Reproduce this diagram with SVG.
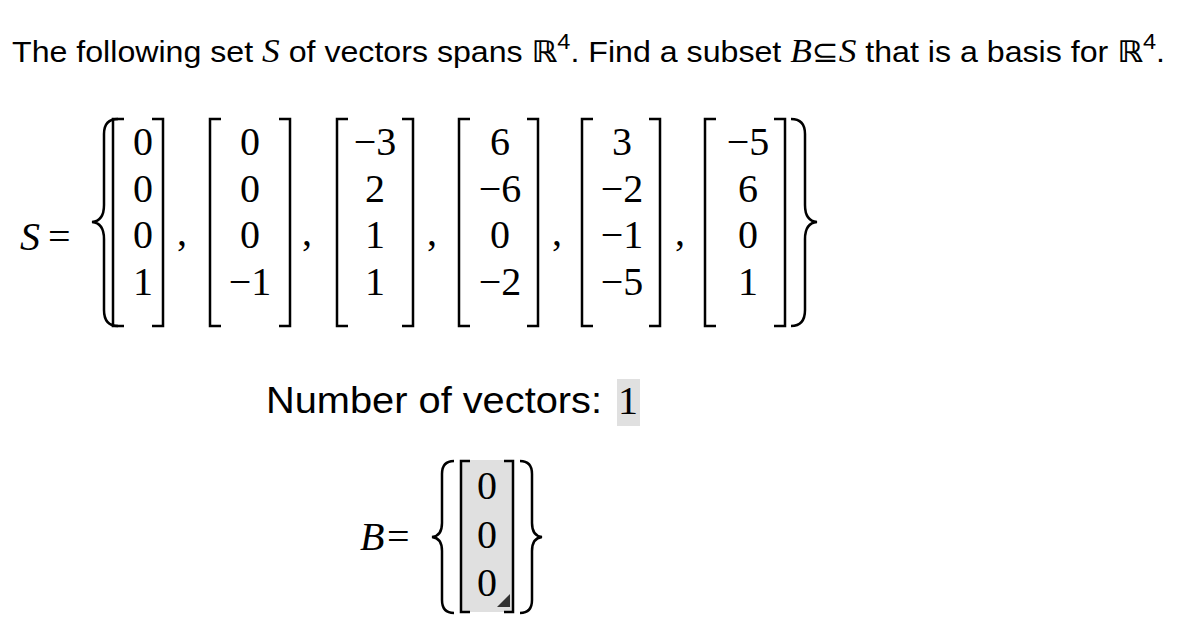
<svg xmlns="http://www.w3.org/2000/svg" width="1183" height="644" viewBox="0 0 1183 644">
<style>
.t{font-family:"Liberation Sans",Arial,sans-serif;fill:#000}
.m{font-family:"Liberation Serif","DejaVu Serif",serif;font-size:40px;fill:#000}
.c{text-anchor:middle}
.b{fill:none;stroke:#000;stroke-width:2.5}
</style>
<rect width="1183" height="644" fill="#fff"/>
<g id="title"><text class="t" x="12" y="62" font-size="30" textLength="1153" lengthAdjust="spacingAndGlyphs">The following set <tspan font-family="Liberation Serif" font-style="italic" font-size="33">S</tspan> of vectors spans <tspan font-family="DejaVu Sans" font-weight="bold">ℝ</tspan><tspan font-size="22" dy="-13">4</tspan><tspan dy="13">. Find a subset </tspan><tspan font-family="Liberation Serif" font-style="italic" font-size="33">B</tspan><tspan font-family="DejaVu Sans">⊆</tspan><tspan font-family="Liberation Serif" font-style="italic" font-size="33">S</tspan> that is a basis for <tspan font-family="DejaVu Sans" font-weight="bold">ℝ</tspan><tspan font-size="22" dy="-13">4</tspan><tspan dy="13">.</tspan></text></g>
<g id="setS">
<text class="m" x="20" y="250" font-style="italic">S</text><text class="m" x="48" y="250">=</text>
<path class="b" d="M118,119 Q104,119 104,134 L104,205 Q104,221 92,222 Q104,223 104,239 L104,310 Q104,326 118,326"/>
<path class="b" d="M791,119 Q805,119 805,134 L805,205 Q805,221 817,222 Q805,223 805,239 L805,310 Q805,326 791,326"/>
<g class="m c">
<text x="143" y="155">0</text><text x="143" y="202">0</text><text x="143" y="248">0</text><text x="143" y="295">1</text>
<text x="250" y="155">0</text><text x="250" y="202">0</text><text x="250" y="248">0</text><text x="250" y="295">−1</text>
<text x="375" y="155">−3</text><text x="375" y="202">2</text><text x="375" y="248">1</text><text x="375" y="295">1</text>
<text x="500" y="155">6</text><text x="500" y="202">−6</text><text x="500" y="248">0</text><text x="500" y="295">−2</text>
<text x="622" y="155">3</text><text x="622" y="202">−2</text><text x="622" y="248">−1</text><text x="622" y="295">−5</text>
<text x="748" y="155">−5</text><text x="748" y="202">6</text><text x="748" y="248">0</text><text x="748" y="295">1</text>
</g>
<g class="m"><text x="177" y="245">,</text><text x="302" y="245">,</text><text x="427" y="245">,</text><text x="552" y="245">,</text><text x="675" y="245">,</text></g>
<path class="b" d="M124,119 h-11 v207 h11 M152,119 h11 v207 h-11"/>
<path class="b" d="M221,119 h-11 v207 h11 M279,119 h11 v207 h-11"/>
<path class="b" d="M348,119 h-11 v207 h11 M402,119 h11 v207 h-11"/>
<path class="b" d="M470,119 h-11 v207 h11 M527,119 h11 v207 h-11"/>
<path class="b" d="M593,119 h-11 v207 h11 M649,119 h11 v207 h-11"/>
<path class="b" d="M716,119 h-11 v207 h11 M774,119 h11 v207 h-11"/>
</g>
<g id="count">
<text class="t" x="266" y="413" font-size="37" textLength="336" lengthAdjust="spacingAndGlyphs">Number of vectors:</text>
<rect x="617" y="379" width="23" height="47" fill="#e0e0e0"/>
<text class="m" x="628" y="414" text-anchor="middle">1</text>
</g>
<g id="setB">
<text class="m" x="360" y="550" font-style="italic">B</text><text class="m" x="387" y="550">=</text>
<path class="b" d="M454,461 Q442,461 442,474 L442,523 Q442,536 432,537 Q442,538 442,551 L442,600 Q442,613 454,613"/>
<path class="b" d="M520,461 Q532,461 532,474 L532,523 Q532,536 542,537 Q532,538 532,551 L532,600 Q532,613 520,613"/>
<rect x="460" y="460" width="54" height="152" fill="#e0e0e0"/>
<path class="b" d="M470,461 h-9 v151 h9 M504,461 h9 v151 h-9"/>
<g class="m c"><text x="487" y="499">0</text><text x="487" y="548">0</text><text x="487" y="596">0</text></g>
<path d="M497,607 h13 v-13 z" fill="#333"/>
</g>
</svg>
